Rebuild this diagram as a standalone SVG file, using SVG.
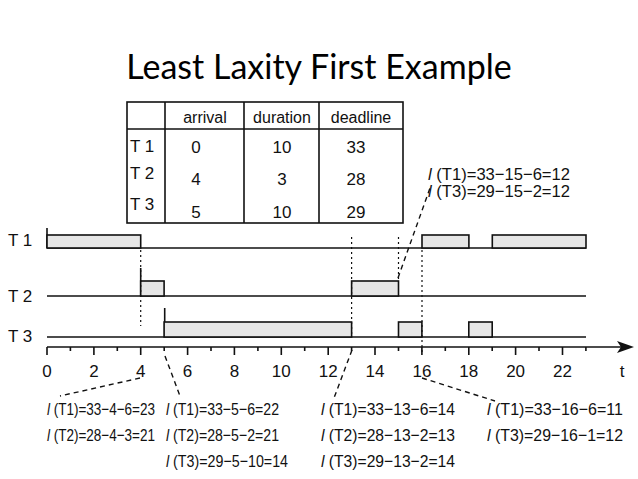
<svg xmlns="http://www.w3.org/2000/svg" width="638" height="479" viewBox="0 0 638 479">
<style>
text{font-family:"Liberation Sans",Arial,sans-serif;font-size:16px;fill:#111}
.title{font-family:Lato,"Open Sans",sans-serif;font-size:34px;fill:#000}
.big{font-size:17px}
.lx{font-size:17px}
.bar{fill:#e6e6e6;stroke:#111;stroke-width:1.6}
.ln{stroke:#111;stroke-width:1.6;fill:none}
.dot{stroke:#111;stroke-width:1.2;stroke-dasharray:2,3;fill:none}
.dash{stroke:#111;stroke-width:1.4;stroke-dasharray:5,4;fill:none}
.c{text-anchor:middle}
</style>
<rect width="638" height="479" fill="#fff"/>
<text class="title c" x="319" y="79">Least Laxity First Example</text>
<g id="table">
<rect x="127" y="102" width="276" height="121" class="ln"/>
<line x1="127" y1="129" x2="403" y2="129" class="ln"/>
<line x1="165" y1="102" x2="165" y2="223" class="ln"/>
<line x1="244" y1="102" x2="244" y2="223" class="ln"/>
<line x1="319" y1="102" x2="319" y2="223" class="ln"/>
<text class="c" x="205" y="123">arrival</text>
<text class="c" x="282" y="123">duration</text>
<text class="c" x="361" y="123">deadline</text>
<text class="big" x="130" y="152">T 1</text><text class="big" x="130" y="179">T 2</text><text class="big" x="130" y="210">T 3</text>
<text class="big c" x="196" y="153">0</text><text class="big c" x="282" y="153">10</text><text class="big c" x="356" y="153">33</text>
<text class="big c" x="196" y="185">4</text><text class="big c" x="282" y="185">3</text><text class="big c" x="356" y="185">28</text>
<text class="big c" x="196" y="218">5</text><text class="big c" x="282" y="218">10</text><text class="big c" x="356" y="218">29</text>
</g>
<g id="tasks">
<text class="big" x="8" y="246">T 1</text><text class="big" x="8" y="302">T 2</text><text class="big" x="8" y="342">T 3</text>
<line x1="47" y1="248" x2="586" y2="248" class="ln"/>
<line x1="47" y1="296" x2="586" y2="296" class="ln"/>
<line x1="47" y1="337" x2="586" y2="337" class="ln"/>
<line x1="47" y1="228" x2="47" y2="248" class="ln"/>
<line x1="140.7" y1="268" x2="140.7" y2="296" class="ln"/>
<line x1="164.7" y1="308" x2="164.7" y2="337" class="ln"/>
<rect class="bar" x="47" y="235" width="93.7" height="13"/>
<rect class="bar" x="422" y="235" width="46.9" height="13"/>
<rect class="bar" x="492.3" y="235" width="93.7" height="13"/>
<rect class="bar" x="140.7" y="281" width="23.4" height="15"/>
<rect class="bar" x="351.6" y="281" width="46.9" height="15"/>
<rect class="bar" x="164.1" y="322" width="187.5" height="15"/>
<rect class="bar" x="398.5" y="322" width="23.4" height="15"/>
<rect class="bar" x="468.8" y="322" width="23.4" height="15"/>
</g>
<g id="connectors">
<line class="dot" x1="140.7" y1="250" x2="140.7" y2="326"/>
<line class="dot" x1="351.6" y1="237" x2="351.6" y2="337"/>
<line class="dot" x1="398.5" y1="237" x2="398.5" y2="281"/>
<line class="dot" x1="422" y1="250" x2="422" y2="352"/>
<line class="dash" x1="398" y1="278" x2="430" y2="188"/>
<line class="dash" x1="140" y1="378" x2="60" y2="396"/>
<line class="dash" x1="165" y1="356" x2="180" y2="396"/>
<line class="dash" x1="352" y1="350" x2="334" y2="398"/>
<line class="dash" x1="422" y1="378" x2="495" y2="401"/>
</g>
<g id="axis">
<line x1="47" y1="347" x2="628" y2="347" class="ln"/>
<path d="M634 347 L617 341 L621 347 L617 353 Z" fill="#111"/>
<path class="ln" d="M47 347v8M70.4 347v4M93.9 347v8M117.3 347v4M140.7 347v8M164.2 347v4M187.6 347v8M211 347v4M234.4 347v8M257.9 347v4M281.3 347v8M304.7 347v4M328.2 347v8M351.6 347v4M375 347v8M398.5 347v4M421.9 347v8M445.3 347v4M468.8 347v8M492.2 347v4M515.6 347v8M539 347v4M562.5 347v8M585.9 347v4"/>
<text class="big c" x="47" y="377">0</text><text class="big c" x="93.9" y="377">2</text><text class="big c" x="140.7" y="377">4</text><text class="big c" x="187.6" y="377">6</text><text class="big c" x="234.4" y="377">8</text><text class="big c" x="281.3" y="377">10</text><text class="big c" x="328.2" y="377">12</text><text class="big c" x="375" y="377">14</text><text class="big c" x="421.9" y="377">16</text><text class="big c" x="468.8" y="377">18</text><text class="big c" x="515.6" y="377">20</text><text class="big c" x="562.5" y="377">22</text><text class="big c" x="622" y="377">t</text>
</g>
<g id="labels">
<text class="lx" x="428" y="180" textLength="142" lengthAdjust="spacingAndGlyphs"><tspan font-style="italic">l</tspan> (T1)=33−15−6=12</text>
<text class="lx" x="428" y="197" textLength="142" lengthAdjust="spacingAndGlyphs"><tspan font-style="italic">l</tspan> (T3)=29−15−2=12</text>
<text class="lx" x="47" y="415" textLength="108" lengthAdjust="spacingAndGlyphs"><tspan font-style="italic">l</tspan> (T1)=33−4−6=23</text>
<text class="lx" x="47" y="441" textLength="108" lengthAdjust="spacingAndGlyphs"><tspan font-style="italic">l</tspan> (T2)=28−4−3=21</text>
<text class="lx" x="166" y="415" textLength="113" lengthAdjust="spacingAndGlyphs"><tspan font-style="italic">l</tspan> (T1)=33−5−6=22</text>
<text class="lx" x="166" y="441" textLength="113" lengthAdjust="spacingAndGlyphs"><tspan font-style="italic">l</tspan> (T2)=28−5−2=21</text>
<text class="lx" x="166" y="467" textLength="122" lengthAdjust="spacingAndGlyphs"><tspan font-style="italic">l</tspan> (T3)=29−5−10=14</text>
<text class="lx" x="321" y="415" textLength="134" lengthAdjust="spacingAndGlyphs"><tspan font-style="italic">l</tspan> (T1)=33−13−6=14</text>
<text class="lx" x="321" y="441" textLength="134" lengthAdjust="spacingAndGlyphs"><tspan font-style="italic">l</tspan> (T2)=28−13−2=13</text>
<text class="lx" x="321" y="467" textLength="134" lengthAdjust="spacingAndGlyphs"><tspan font-style="italic">l</tspan> (T3)=29−13−2=14</text>
<text class="lx" x="487" y="415" textLength="136" lengthAdjust="spacingAndGlyphs"><tspan font-style="italic">l</tspan> (T1)=33−16−6=11</text>
<text class="lx" x="487" y="441" textLength="136" lengthAdjust="spacingAndGlyphs"><tspan font-style="italic">l</tspan> (T3)=29−16−1=12</text>
</g>
</svg>
